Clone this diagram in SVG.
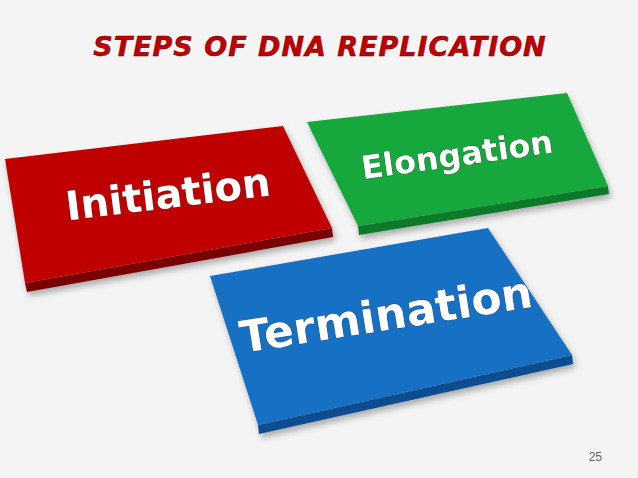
<svg xmlns="http://www.w3.org/2000/svg" width="638" height="478" viewBox="0 0 638 478">
<defs>
<style>
.lbl{font-family:"DejaVu Sans",sans-serif;font-weight:bold;fill:#fff;text-anchor:middle;stroke:#333;stroke-width:0.6;paint-order:stroke}
</style>
<filter id="sh" x="-10%" y="-10%" width="130%" height="140%"><feDropShadow dx="2" dy="4" stdDeviation="3" flood-opacity="0.3"/></filter>
</defs>
<rect width="638" height="478" fill="#f4f4f4"/>
<text x="320" y="56" font-family="DejaVu Sans,sans-serif" font-size="27" font-weight="bold" font-style="italic" fill="#c00000" text-anchor="middle" stroke="#600" stroke-width="0.5" letter-spacing="1">STEPS OF DNA REPLICATION</text>
<g id="initiation" filter="url(#sh)">
<polygon points="25,283 332,228 333,237 27,292" fill="#7a0000"/>
<polygon points="5,159 283,126 332,228 25,283" fill="#c00000"/>
<text class="lbl" x="168" y="208" font-size="40" transform="rotate(-7 168 195)">Initiation</text>
</g>
<g id="elongation" filter="url(#sh)">
<polygon points="358,226 608,186 609,194 359,235" fill="#0b7a2a"/>
<polygon points="307,122 567,93 608,186 358,226" fill="#12a83c"/>
<text class="lbl" x="457" y="166" font-size="32" transform="rotate(-8 457 155)">Elongation</text>
</g>
<g id="termination" filter="url(#sh)">
<polygon points="258,425 572,355 573,364 259,434" fill="#0a4d8f"/>
<polygon points="210,276 488,228 572,355 258,425" fill="#1670c4"/>
<text class="lbl" x="386" y="330" font-size="44" transform="rotate(-9 386 315)">Termination</text>
</g>
<text x="602" y="461" font-family="Liberation Sans,sans-serif" font-size="12" fill="#666" text-anchor="end">25</text>
</svg>
